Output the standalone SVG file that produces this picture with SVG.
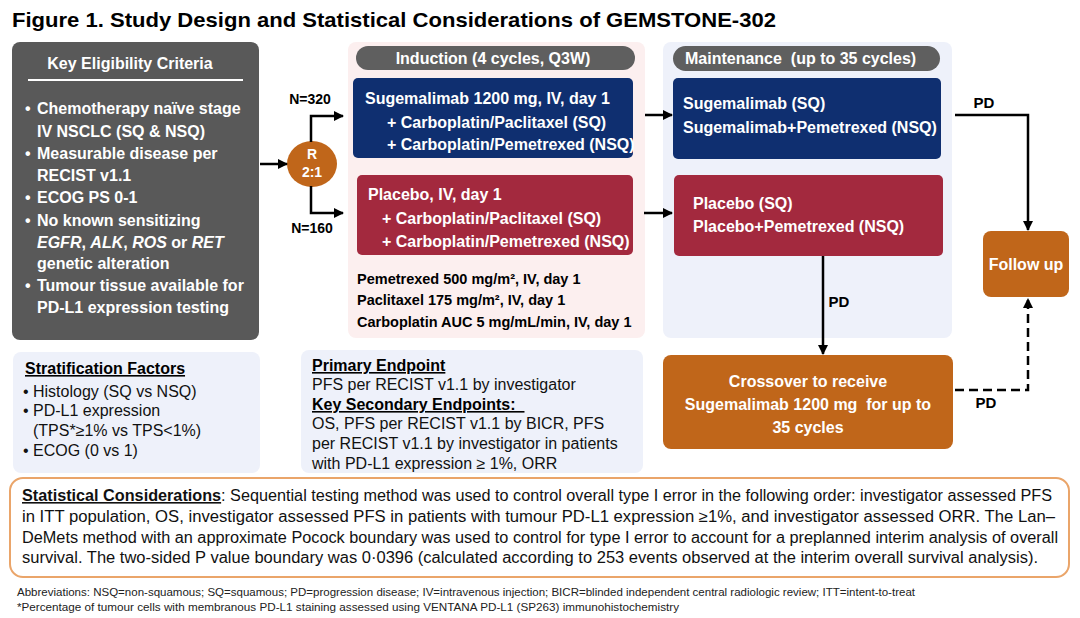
<svg xmlns="http://www.w3.org/2000/svg" width="1080" height="618" viewBox="0 0 1080 618">
<defs>
<marker id="ah" viewBox="0 0 10 10" refX="9" refY="5" markerWidth="10" markerHeight="10" markerUnits="userSpaceOnUse" orient="auto">
<path d="M0,0 L10,5 L0,10 z" fill="#000"/>
</marker>
<style>
text{font-family:"Liberation Sans",Arial,sans-serif;}
.w{fill:#fff;font-weight:bold;font-size:16px;}
.b{fill:#000;font-weight:bold;}
.r{fill:#111;font-size:16px;}
.c{stroke:#000;stroke-width:2.5;fill:none;marker-end:url(#ah);}
.u{text-decoration:underline;}
</style>
</defs>
<rect width="1080" height="618" fill="#fff"/>
<text x="12" y="27" font-size="21" font-weight="bold" fill="#000" textLength="764" lengthAdjust="spacingAndGlyphs">Figure 1. Study Design and Statistical Considerations of GEMSTONE-302</text>

<g id="panels">
<rect x="348" y="42" width="297" height="296" rx="8" fill="#FCEFEF"/>
<rect x="663" y="42" width="289" height="296" rx="8" fill="#EEF1FA"/>
</g>

<g id="eligibility">
<rect x="12" y="42" width="247" height="298" rx="8" fill="#595959"/>
<text x="130" y="69" class="w" text-anchor="middle">Key Eligibility Criteria</text>
<line x1="28" y1="80" x2="243" y2="80" stroke="#fff" stroke-width="2"/>
<g class="w">
<text x="25" y="114">•</text><text x="37" y="114">Chemotherapy naïve stage</text>
<text x="37" y="137">IV NSCLC (SQ &amp; NSQ)</text>
<text x="25" y="159">•</text><text x="37" y="159">Measurable disease per</text>
<text x="37" y="181">RECIST v1.1</text>
<text x="25" y="203">•</text><text x="37" y="203">ECOG PS 0-1</text>
<text x="25" y="226">•</text><text x="37" y="226">No known sensitizing</text>
<text x="37" y="248"><tspan font-style="italic">EGFR</tspan>, <tspan font-style="italic">ALK</tspan>, <tspan font-style="italic">ROS</tspan> or <tspan font-style="italic">RET</tspan></text>
<text x="37" y="269">genetic alteration</text>
<text x="25" y="291">•</text><text x="37" y="291">Tumour tissue available for</text>
<text x="37" y="313">PD-L1 expression testing</text>
</g>
</g>

<g id="randomization">
<ellipse cx="312" cy="164" rx="25" ry="23" fill="#C0661A"/>
<text x="312" y="159" class="w" font-size="14" text-anchor="middle" style="font-size:14px">R</text>
<text x="312" y="177" class="w" text-anchor="middle" style="font-size:14px">2:1</text>
</g>

<g id="induction-header">
<rect x="356" y="46" width="279" height="24" rx="12" fill="#5F5F5F"/>
<text x="493" y="64" class="w" text-anchor="middle">Induction (4 cycles, Q3W)</text>
</g>

<g id="induction-sugemalimab">
<rect x="353" y="78" width="280" height="80" rx="5" fill="#0F2F70"/>
<text x="365" y="104" class="w">Sugemalimab 1200 mg, IV, day 1</text>
<text x="387" y="128" class="w">+ Carboplatin/Paclitaxel (SQ)</text>
<text x="387" y="150" class="w">+ Carboplatin/Pemetrexed (NSQ)</text>
</g>

<g id="induction-placebo">
<rect x="357" y="175" width="276" height="80" rx="5" fill="#A3293E"/>
<text x="368" y="200" class="w">Placebo, IV, day 1</text>
<text x="382" y="224" class="w">+ Carboplatin/Paclitaxel (SQ)</text>
<text x="382" y="247" class="w">+ Carboplatin/Pemetrexed (NSQ)</text>
</g>

<g id="doses">
<text x="357" y="284" class="b" font-size="14.5">Pemetrexed 500 mg/m², IV, day 1</text>
<text x="357" y="305" class="b" font-size="14.5">Paclitaxel 175 mg/m², IV, day 1</text>
<text x="357" y="327" class="b" font-size="14.5">Carboplatin AUC 5 mg/mL/min, IV, day 1</text>
</g>

<g id="maintenance-header">
<rect x="673" y="46" width="267" height="25" rx="12.5" fill="#5F5F5F"/>
<text x="685" y="64" class="w" xml:space="preserve">Maintenance  (up to 35 cycles)</text>
</g>

<g id="maintenance-sugemalimab">
<rect x="673" y="78" width="268" height="81" rx="5" fill="#0F2F70"/>
<text x="683" y="109" class="w">Sugemalimab (SQ)</text>
<text x="683" y="133" class="w">Sugemalimab+Pemetrexed (NSQ)</text>
</g>

<g id="maintenance-placebo">
<rect x="674" y="175" width="269" height="81" rx="5" fill="#A3293E"/>
<text x="693" y="209" class="w">Placebo (SQ)</text>
<text x="693" y="232" class="w">Placebo+Pemetrexed (NSQ)</text>
</g>

<g id="follow-up">
<rect x="983" y="231" width="86" height="66" rx="8" fill="#C0661A"/>
<text x="1026" y="270" class="w" text-anchor="middle">Follow up</text>
</g>

<g id="crossover">
<rect x="663" y="355" width="290" height="94" rx="8" fill="#C0661A"/>
<text x="808" y="387" class="w" text-anchor="middle">Crossover to receive</text>
<text x="808" y="410" class="w" text-anchor="middle" xml:space="preserve">Sugemalimab 1200 mg  for up to</text>
<text x="808" y="433" class="w" text-anchor="middle">35 cycles</text>
</g>

<g id="connectors">
<line x1="260" y1="164" x2="287" y2="164" class="c"/>
<polyline points="311,142 311,116 343,116" class="c"/>
<polyline points="311,186 311,213 343,213" class="c"/>
<line x1="645" y1="115" x2="672" y2="115" class="c"/>
<line x1="644" y1="213" x2="672" y2="213" class="c"/>
<polyline points="955,115 1028,115 1028,230" class="c"/>
<line x1="823" y1="256" x2="823" y2="354" class="c"/>
<polyline points="955,390 1028,390 1028,299" class="c" stroke-dasharray="9,5"/>
<text x="310" y="104" class="b" font-size="14" text-anchor="middle">N=320</text>
<text x="312" y="233" class="b" font-size="14" text-anchor="middle">N=160</text>
<text x="984" y="108" class="b" font-size="15" text-anchor="middle">PD</text>
<text x="839" y="307" class="b" font-size="15" text-anchor="middle">PD</text>
<text x="986" y="408" class="b" font-size="15" text-anchor="middle">PD</text>
</g>

<g id="stratification">
<rect x="13" y="352" width="247" height="121" rx="8" fill="#EEF1FA"/>
<text x="25" y="374" class="b u" font-size="16">Stratification Factors</text>
<text x="23" y="397" class="r">•</text><text x="33" y="397" class="r">Histology (SQ vs NSQ)</text>
<text x="23" y="416" class="r">•</text><text x="33" y="416" class="r">PD-L1 expression</text>
<text x="33" y="436" class="r">(TPS*≥1% vs TPS&lt;1%)</text>
<text x="23" y="456" class="r">•</text><text x="33" y="456" class="r">ECOG (0 vs 1)</text>
</g>

<g id="endpoints">
<rect x="301" y="350" width="342" height="123" rx="8" fill="#EEF1FA"/>
<text x="312" y="371" class="b u" font-size="16">Primary Endpoint</text>
<text x="312" y="390" class="r">PFS per RECIST v1.1 by investigator</text>
<text x="312" y="410" class="b u" font-size="16" xml:space="preserve">Key Secondary Endpoints:  </text>
<text x="312" y="429" class="r">OS, PFS per RECIST v1.1 by BICR, PFS</text>
<text x="312" y="449" class="r">per RECIST v1.1 by investigator in patients</text>
<text x="312" y="469" class="r">with PD-L1 expression ≥ 1%, ORR</text>
</g>

<g id="statistics">
<rect x="10" y="478" width="1059" height="99" rx="13" fill="#fff" stroke="#EAA56A" stroke-width="2"/>
<text x="22" y="501" class="r" textLength="1030" lengthAdjust="spacingAndGlyphs"><tspan font-weight="bold" class="u">Statistical Considerations</tspan>: Sequential testing method was used to control overall type I error in the following order: investigator assessed PFS</text>
<text x="22" y="522" class="r" textLength="1033" lengthAdjust="spacingAndGlyphs">in ITT population, OS, investigator assessed PFS in patients with tumour PD-L1 expression ≥1%, and investigator assessed ORR. The Lan–</text>
<text x="22" y="543" class="r" textLength="1036" lengthAdjust="spacingAndGlyphs">DeMets method with an approximate Pocock boundary was used to control for type I error to account for a preplanned interim analysis of overall</text>
<text x="22" y="563" class="r" textLength="1016" lengthAdjust="spacingAndGlyphs">survival. The two-sided P value boundary was 0·0396 (calculated according to 253 events observed at the interim overall survival analysis).</text>
</g>

<g id="footnotes">
<text x="17" y="596" font-size="11" fill="#222" textLength="898" lengthAdjust="spacingAndGlyphs">Abbreviations: NSQ=non-squamous; SQ=squamous; PD=progression disease; IV=intravenous injection; BICR=blinded independent central radiologic review; ITT=intent-to-treat</text>
<text x="17" y="611" font-size="11" fill="#222" textLength="662" lengthAdjust="spacingAndGlyphs">*Percentage of tumour cells with membranous PD-L1 staining assessed using VENTANA PD-L1 (SP263) immunohistochemistry</text>
</g>
</svg>
